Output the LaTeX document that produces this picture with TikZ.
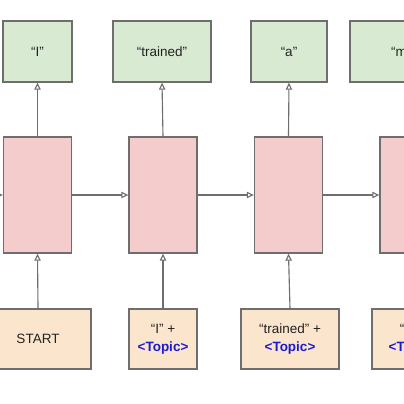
\documentclass[tikz,border=0pt]{standalone}
\usepackage{fontspec}
\setmainfont{Liberation Sans}
\usepackage{xcolor}
\usetikzlibrary{arrows.meta, positioning}

\definecolor{outgreen}{HTML}{D9EAD3}
\definecolor{cellpink}{HTML}{F4CCCC}
\definecolor{inorange}{HTML}{FCE5CD}
\definecolor{edgegray}{HTML}{6E6E6E}
\definecolor{topicblue}{HTML}{1C1CCF}
\definecolor{textdark}{HTML}{222222}

\tikzset{
  box/.style={draw=edgegray, line width=0.9pt, inner sep=0pt, align=center,
    text=textdark, font=\fontsize{9.6}{12.5}\selectfont},
  outbox/.style={box, fill=outgreen, minimum height=1.525cm},
  cellbox/.style={box, fill=cellpink, minimum width=1.7cm, minimum height=2.9cm},
  inbox/.style={box, fill=inorange, minimum height=1.5cm},
  link/.style={draw=edgegray, line width=0.8pt, -{Triangle[open, length=5pt, width=4.5pt]}},
}
\newcommand{\topictag}{\textcolor{topicblue}{\bfseries<Topic>}}

\begin{document}
\begin{tikzpicture}[x=0.025cm, y=-0.025cm]
\useasboundingbox (0,0) rectangle (404,404);
\clip (0,0) rectangle (404,404);
\fill[white] (0,0) rectangle (404,404);

% Output words
\node[outbox, minimum width=1.725cm] (out1) at (37.5,51.5) {“I”};
\node[outbox, minimum width=2.45cm] (out2) at (162,51.5) {“trained”};
\node[outbox, minimum width=1.9cm] (out3) at (289,51.5) {“a”};
\node[outbox, minimum width=3.2cm] (out4) at (414,51.5) {“model”};

% RNN cells
\node[cellbox] (cell1) at (37.5,195) {};
\node[cellbox] (cell2) at (163,195) {};
\node[cellbox] (cell3) at (288.5,195) {};
\node[cellbox] (cell4) at (414,195) {};

% Inputs
\node[inbox, minimum width=2.65cm] (in1) at (38,339) {START};
\node[inbox, minimum width=1.7cm] (in2) at (163,339) {“I” +\\\topictag};
\node[inbox, minimum width=2.45cm] (in3) at (290,339) {“trained” +\\\topictag};
\node[inbox, minimum width=2.1cm] (in4) at (414,339) {“a” +\\\topictag};

% Connections
\coordinate (h0) at (-30,195);
\draw[link] (h0) -- (cell1);
\foreach \a/\b in {1/2, 2/3, 3/4}
  \draw[link] (cell\a) -- (cell\b);
\foreach \i in {1,...,4} {
  \draw[link] (in\i.north) -- (cell\i.south);
  \draw[link] (cell\i.north) -- (out\i.south);
}
\end{tikzpicture}
\end{document}
